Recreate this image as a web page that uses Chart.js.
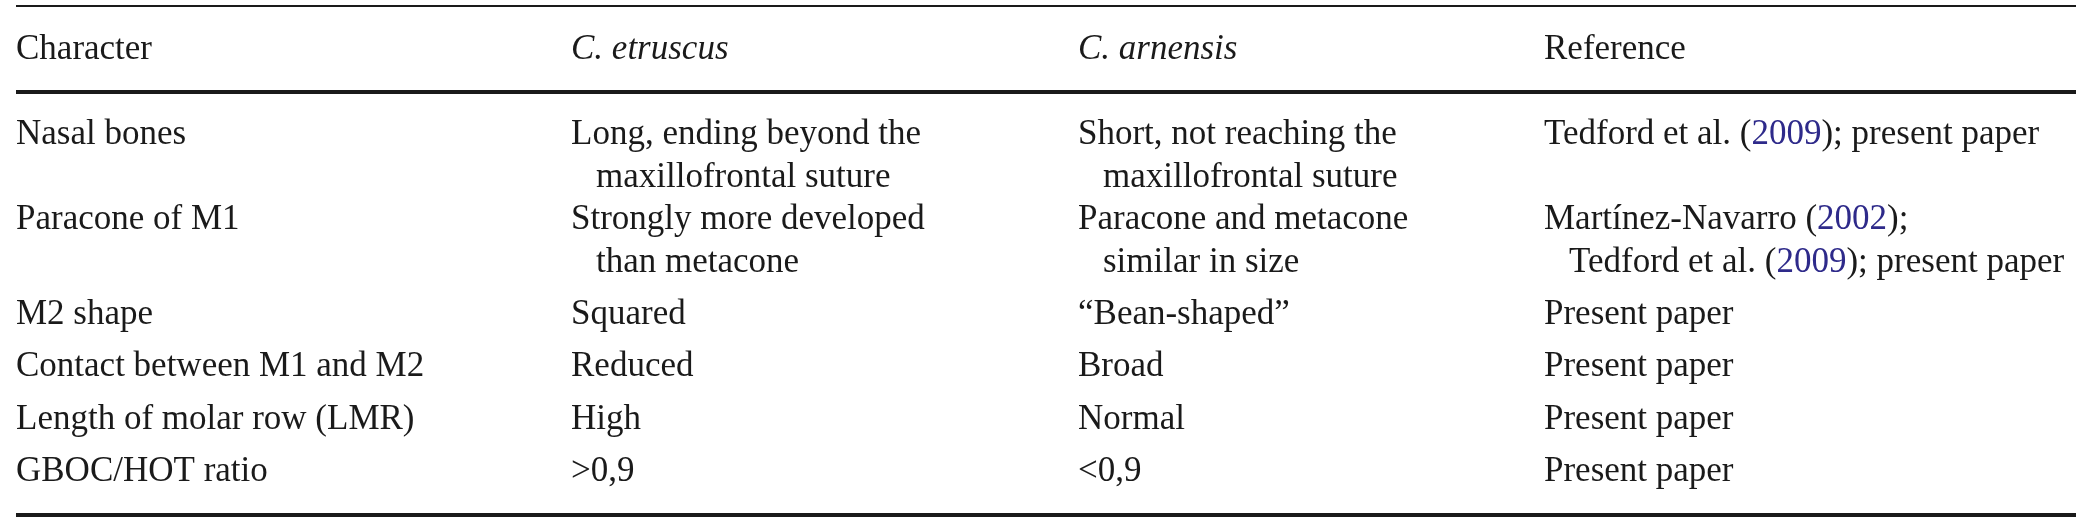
<!DOCTYPE html>
<html><head><meta charset="utf-8">
<script src="https://cdn.jsdelivr.net/npm/chart.js@4"></script>
<style>html,body{margin:0;background:#fff}canvas{display:block}</style>
</head><body>
<canvas id="c" width="2076" height="518"></canvas>
<script>
const headers = ["Character", "C. etruscus", "C. arnensis", "Reference"];
const characters = ["Nasal bones", "Paracone of M1", "M2 shape", "Contact between M1 and M2", "Length of molar row (LMR)", "GBOC/HOT ratio"];
const etruscus = [["Long, ending beyond the", "maxillofrontal suture"], ["Strongly more developed", "than metacone"], ["Squared"], ["Reduced"], ["High"], [">0,9"]];
const arnensis = [["Short, not reaching the", "maxillofrontal suture"], ["Paracone and metacone", "similar in size"], ["\u201cBean-shaped\u201d"], ["Broad"], ["Normal"], ["<0,9"]];
// [text, isLink] segments per line
const references = [
  [[["Tedford et al. (", 0], ["2009", 1], ["); present paper", 0]]],
  [[["Mart\u00ednez-Navarro (", 0], ["2002", 1], [");", 0]],
   [["Tedford et al. (", 0], ["2009", 1], ["); present paper", 0]]],
  [[["Present paper", 0]]],
  [[["Present paper", 0]]],
  [[["Present paper", 0]]],
  [[["Present paper", 0]]]
];

const colX = [16, 571, 1078, 1544];
const rowY = [135, 220, 315, 367, 420, 472];
const lineGap = 43;
const indent = 25;

const tablePlugin = {
  id: "table",
  afterDraw(chart) {
    const ctx = chart.ctx, xs = chart.scales.x, ys = chart.scales.y;
    const font = "35px 'Liberation Serif', 'DejaVu Serif', serif";
    const ifont = "italic 35px 'Liberation Serif', 'DejaVu Serif', serif";
    const ink = "#1a1a1a";
    ctx.save();
    ctx.textBaseline = "middle";
    ctx.fillStyle = ink;
    const x0 = xs.getPixelForValue(16), x1 = xs.getPixelForValue(2076);
    ctx.fillRect(x0, ys.getPixelForValue(5), x1 - x0, 2);
    ctx.fillRect(x0, ys.getPixelForValue(90), x1 - x0, 4);
    ctx.fillRect(x0, ys.getPixelForValue(513), x1 - x0, 4);
    headers.forEach((h, i) => {
      ctx.font = (i === 1 || i === 2) ? ifont : font;
      ctx.fillText(h, xs.getPixelForValue(colX[i]), ys.getPixelForValue(50));
    });
    ctx.font = font;
    characters.forEach((c, r) => {
      const y0 = rowY[r];
      ctx.fillText(c, xs.getPixelForValue(colX[0]), ys.getPixelForValue(y0));
      [etruscus[r], arnensis[r]].forEach((lines, k) => {
        lines.forEach((t, li) => {
          ctx.fillText(t, xs.getPixelForValue(colX[k + 1] + (li ? indent : 0)), ys.getPixelForValue(y0 + li * lineGap));
        });
      });
      references[r].forEach((segs, li) => {
        let x = xs.getPixelForValue(colX[3] + (li ? indent : 0));
        segs.forEach(([t, link]) => {
          ctx.fillStyle = link ? "#2e2a8a" : ink;
          ctx.fillText(t, x, ys.getPixelForValue(y0 + li * lineGap));
          x += ctx.measureText(t).width;
        });
        ctx.fillStyle = ink;
      });
    });
    ctx.restore();
  }
};

new Chart(document.getElementById("c"), {
  type: "scatter",
  data: { datasets: [{ data: [], pointRadius: 0 }] },
  options: {
    responsive: false,
    animation: false,
    layout: { padding: 0 },
    plugins: { legend: { display: false }, tooltip: { enabled: false } },
    scales: {
      x: { type: "linear", min: 0, max: 2076, display: false },
      y: { type: "linear", min: 0, max: 518, reverse: true, display: false }
    }
  },
  plugins: [tablePlugin]
});
</script>
</body></html>
